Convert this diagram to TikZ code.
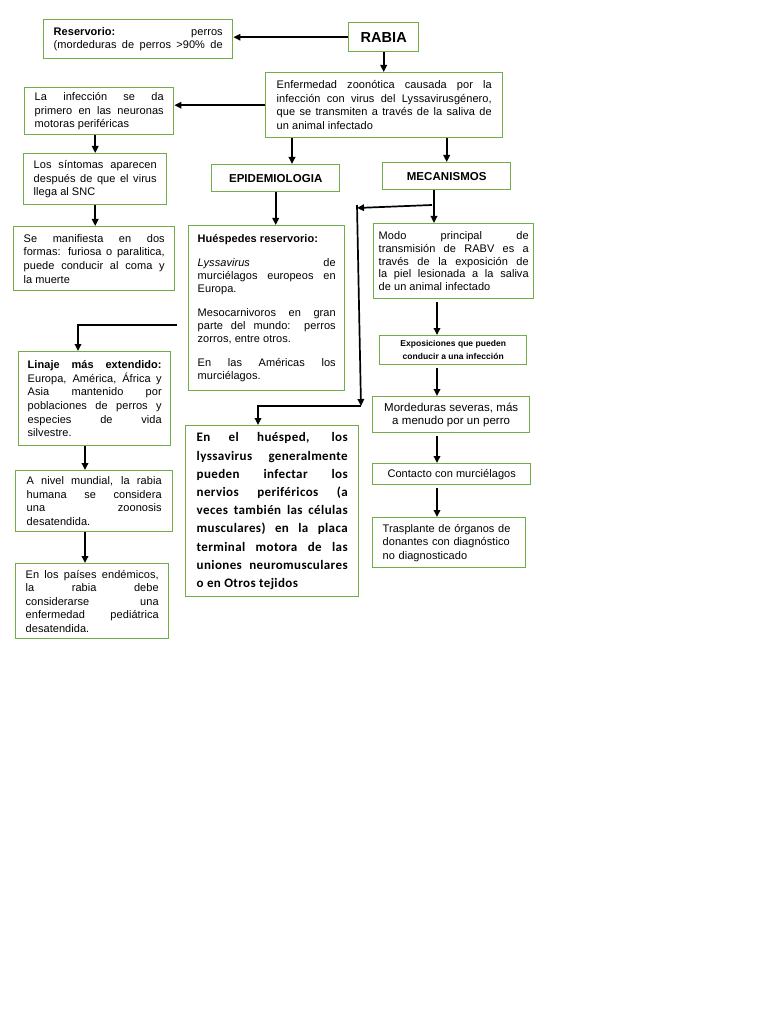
\documentclass[tikz,border=0pt]{standalone}
\usepackage{fontspec}
\setmainfont{Liberation Sans}[LetterSpace=0.5]
\newfontfamily\calib{Carlito}[LetterSpace=3]
\usetikzlibrary{arrows.meta,calc}
\definecolor{bgreen}{RGB}{112,173,71}
\tolerance=10000
\hbadness=10000
\hyphenpenalty=10000
\exhyphenpenalty=10000
\parindent=0pt
\newcommand\tolr{\tolerance=10000\relax}
\begin{document}
\begin{tikzpicture}[x=1pt,y=-1pt,
  box/.style={draw=bgreen, line width=1.4pt, fill=white, anchor=north west,
    inner ysep=2pt, font=\fontsize{11}{13.6}\selectfont\tolr, align=justify},
  cbox/.style={draw=bgreen, line width=1.4pt, fill=white, anchor=north west,
    inner sep=1pt, font=\fontsize{11}{13.6}\selectfont, align=center},
  arr/.style={-{Triangle[length=7pt,width=6.5pt]}, line width=1.7pt},
]
\useasboundingbox (0,0) rectangle (768,1024);

% top
\node[box, inner xsep=10pt, text width=169pt, minimum height=39pt] (res) at (43,19)
  {\textbf{Reservorio:}\hfill perros\\\makebox[169pt][s]{(mordeduras de perros >90\% de}};
\node[cbox, minimum width=70pt, minimum height=29pt, font=\fontsize{14.5}{16}\selectfont\bfseries] (rabia) at (348,22) {RABIA};
\node[box, inner xsep=11pt, text width=215pt, minimum height=65pt] (enf) at (265,72)
  {Enfermedad zoonótica causada por la\linebreak infección con virus del Lyssavirusgénero,\linebreak que se transmiten a través de la saliva de\linebreak un animal infectado};

% left column
\node[box, inner xsep=10pt, text width=129pt, minimum height=47pt] (inf) at (24,87)
  {La infección se da\linebreak primero en las neuronas\linebreak motoras periféricas};
\node[box, inner xsep=10pt, text width=123pt, minimum height=51pt] (sin) at (23,153)
  {Los síntomas aparecen\linebreak después de que el virus\linebreak llega al SNC};
\node[box, inner xsep=10pt, text width=141pt, minimum height=64pt] (man) at (13,226)
  {Se manifiesta en dos\linebreak formas: furiosa o paralitica,\linebreak puede conducir al coma y\linebreak la muerte};
\node[box, inner xsep=9pt, text width=134pt, minimum height=94pt] (lin) at (18,351)
  {\textbf{Linaje más extendido:}\linebreak Europa, América, África y\linebreak Asia mantenido por\linebreak poblaciones de perros y\linebreak especies de vida\linebreak silvestre.};
\node[box, inner xsep=11pt, text width=135pt, minimum height=61pt] (niv) at (15,470)
  {A nivel mundial, la rabia\linebreak humana se considera\linebreak una zoonosis\linebreak desatendida.};
\node[box, inner xsep=10pt, text width=133pt, minimum height=75pt] (pai) at (15,563)
  {En los países endémicos,\linebreak la rabia debe\linebreak considerarse una\linebreak enfermedad pediátrica\linebreak desatendida.};

% middle column
\node[cbox, minimum width=128pt, minimum height=27pt, font=\fontsize{11.5}{13}\selectfont\bfseries] (epi) at (211,164) {EPIDEMIOLOGIA};
\node[box, inner xsep=9pt, text width=138pt, minimum height=165pt, font=\fontsize{11}{13.2}\selectfont\tolr] (hue) at (188,225)
  {\setlength\parskip{10.5pt}\textbf{Huéspedes reservorio:}\par
   \textit{Lyssavirus}\hfill de\linebreak murciélagos europeos en\linebreak Europa.\par
   Mesocarnivoros en gran\linebreak parte del mundo: perros\linebreak zorros, entre otros.\par
   En las Américas los\linebreak murciélagos.};
\node[box, inner xsep=11pt, text width=151pt, minimum height=171pt, font=\calib\bfseries\fontsize{13}{18.2}\selectfont\tolr] (enh) at (185,425)
  {En el huésped, los\linebreak lyssavirus generalmente\linebreak pueden infectar los\linebreak nervios periféricos (a\linebreak veces también las células\linebreak musculares) en la placa\linebreak terminal motora de las\linebreak uniones neuromusculares\linebreak o en Otros tejidos};

% right column
\node[cbox, minimum width=128pt, minimum height=27pt, font=\fontsize{11.5}{13}\selectfont\bfseries] (mec) at (382,162) {MECANISMOS};
\node[box, inner xsep=5pt, text width=150pt, minimum height=75pt, font=\fontsize{11}{12.8}\selectfont\tolr] (modo) at (373,223)
  {Modo principal de\linebreak transmisión de RABV es a\linebreak través de la exposición de\linebreak la piel lesionada a la saliva\linebreak de un animal infectado};
\node[cbox, minimum width=147pt, minimum height=29pt, font=\fontsize{8.5}{12.5}\selectfont\bfseries] (exp) at (379,335)
  {Exposiciones que pueden\\conducir a una infección};
\node[cbox, minimum width=157pt, minimum height=36pt, font=\fontsize{11.5}{13.4}\selectfont] (mor) at (372,396)
  {Mordeduras severas, más\\a menudo por un perro};
\node[cbox, minimum width=158pt, minimum height=21pt] (con) at (372,463)
  {Contacto con murciélagos};
\node[box, inner xsep=10pt, text width=133pt, minimum height=50pt, align=left] (tra) at (372,517)
  {Trasplante de órganos de\\donantes con diagnóstico\\no diagnosticado};

% helper coordinates
\coordinate (c292) at (292,0);
\coordinate (c434) at (434,0);
\coordinate (c437) at (437,0);
\coordinate (c258) at (258,0);
\coordinate (c78) at (78,0);
\coordinate (c85) at (85,0);
\coordinate (b1) at (432,205);
\coordinate (b2) at (357,208);
\coordinate (b3) at (357,205);
\coordinate (b4) at (361,406);
\coordinate (h1) at (177,325);

% connectors
\draw[arr] (rabia.west) -- (rabia.west -| res.east);
\draw[arr] (rabia.south) -- (rabia.south |- enf.north);
\draw[arr] (enf.west) -- (enf.west -| inf.east);
\draw[arr] (enf.south -| c292) -- (epi.north -| c292);
\draw[arr] (mec.north |- enf.south) -- (mec.north);
\draw[arr] (sin.north |- inf.south) -- (sin.north);
\draw[arr] (sin.south) -- (sin.south |- man.north);
\draw[arr] (epi.south) -- (epi.south |- hue.north);
\draw[arr] (mec.south -| c434) -- (modo.north -| c434);
\draw[arr] (b1) -- (b2);
\draw[arr] (b3) -- (b4);
\draw[arr] (b4) -- (b4 -| c258) -- (enh.north -| c258);
\draw[arr] (h1) -- (h1 -| c78) -- (lin.north -| c78);
\draw[arr] (lin.south -| c85) -- (niv.north -| c85);
\draw[arr] (niv.south -| c85) -- (pai.north -| c85);
\draw[arr, shorten <=3pt] (modo.south -| c437) -- (exp.north -| c437);
\draw[arr, shorten <=3pt] (exp.south -| c437) -- (mor.north -| c437);
\draw[arr, shorten <=3pt] (mor.south -| c437) -- (con.north -| c437);
\draw[arr, shorten <=3pt] (con.south -| c437) -- (tra.north -| c437);
\end{tikzpicture}
\end{document}
